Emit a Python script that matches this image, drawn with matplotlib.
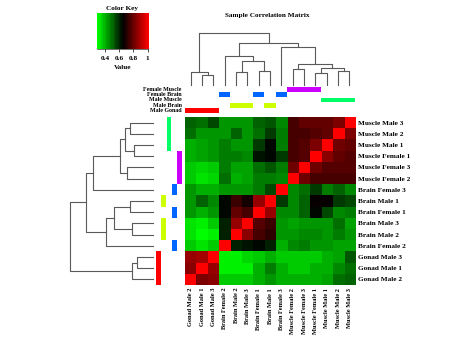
import numpy as np
import matplotlib
matplotlib.use("Agg")
import matplotlib.pyplot as plt
from matplotlib.colors import LinearSegmentedColormap

plt.rcParams["font.family"] = ["Liberation Serif", "DejaVu Serif"]
plt.rcParams["font.weight"] = "bold"

# samples in column order (left to right); rows run the other way round
samples = ["Gonad Male 2", "Gonad Male 1", "Gonad Male 3", "Brain Female 2", "Brain Male 2",
           "Brain Male 3", "Brain Female 1", "Brain Male 1", "Brain Female 3", "Muscle Female 2",
           "Muscle Female 3", "Muscle Female 1", "Muscle Male 1", "Muscle Male 2", "Muscle Male 3"]

# correlations, rows from Muscle Male 3 (top) down to Gonad Male 2
corr = np.array([
    [.51, .49, .54, .43, .43, .44, .50, .53, .46, .75, .78, .78, .78, .81, 1.0],
    [.49, .43, .43, .43, .51, .43, .49, .56, .47, .75, .75, .77, .78, 1.0, .81],
    [.40, .41, .43, .47, .44, .44, .56, .63, .47, .75, .77, .81, 1.0, .80, .78],
    [.40, .41, .43, .47, .47, .46, .61, .63, .56, .75, .77, 1.0, .84, .78, .77],
    [.36, .34, .37, .47, .41, .41, .49, .53, .47, .80, 1.0, .80, .77, .77, .77],
    [.37, .33, .34, .49, .40, .41, .47, .47, .46, 1.0, .80, .75, .75, .75, .75],
    [.43, .39, .39, .44, .44, .43, .47, .54, 1.0, .46, .49, .56, .47, .50, .45],
    [.44, .51, .46, .63, .73, .68, .85, 1.0, .56, .46, .50, .66, .65, .56, .54],
    [.43, .40, .43, .64, .78, .75, 1.0, .85, .46, .46, .50, .63, .54, .46, .47],
    [.33, .30, .37, .60, .85, 1.0, .77, .72, .43, .41, .43, .44, .43, .49, .41],
    [.33, .29, .31, .60, 1.0, .84, .74, .70, .43, .43, .46, .46, .44, .47, .43],
    [.36, .33, .36, 1.0, .60, .61, .64, .60, .40, .46, .47, .44, .44, .41, .41],
    [.85, .88, 1.0, .31, .30, .34, .37, .40, .37, .36, .36, .37, .39, .41, .53],
    [.84, 1.0, .85, .31, .30, .30, .40, .47, .39, .36, .37, .39, .39, .46, .49],
    [1.0, .82, .84, .36, .36, .36, .39, .43, .40, .40, .40, .40, .41, .49, .50],
])

# cluster tree: (merge height, left, right), leaves are column indices
tree = (155,
        (40, 0, (30, 1, 2)),
        (125,
         (87, 3, (72, (40, 4, 5), (43, 6, 7))),
         (112, 8, (62, (48, 9, 10), (52, (35, 11, 12), (43, 13, 14))))))

group_names = ["Female Muscle", "Female Brain", "Male Muscle", "Male Brain", "Male Gonad"]
group_colors = ["#CC00FF", "#0066FF", "#00FF66", "#CCFF00", "#FF0000"]

key_ticks = [0.4, 0.6, 0.8, 1.0]
key_labels = ["0.4", "0.6", "0.8", "1"]

vmin, vmax = 0.28, 1.01
cmap = LinearSegmentedColormap.from_list("greenred", ["#00FF00", "#000000", "#FF0000"], N=40)

W, H = 474, 341
n = len(samples)
line_col = "#5a5a5a"
fs = 5.2


def box(x0, y0, x1, y1):
    # pixel box (top-left origin) -> figure fraction rect
    return [x0 / W, 1 - y1 / H, (x1 - x0) / W, (y1 - y0) / H]


def draw_tree(ax, node, side):
    if isinstance(node, int):
        return node, 0
    h, a, b = node
    xa, ha = draw_tree(ax, a, side)
    xb, hb = draw_tree(ax, b, side)
    xs = [xa, xa, xb, xb]
    ys = [ha, h, h, hb]
    if side == "top":
        ax.plot(xs, ys, color=line_col, lw=0.8, clip_on=False)
    else:
        ax.plot(ys, [n - 1 - x for x in xs], color=line_col, lw=0.8, clip_on=False)
    return (xa + xb) / 2, h


fig = plt.figure(figsize=(W / 100, H / 100), dpi=100)

# heatmap
ax = fig.add_axes(box(185, 117, 355, 285))
ax.imshow(corr, cmap=cmap, vmin=vmin, vmax=vmax, aspect="auto", interpolation="nearest")
ax.set_xticks(range(n))
ax.set_xticklabels(samples, rotation=90, fontsize=4.6)
ax.set_yticks(range(n))
ax.set_yticklabels(samples[::-1], fontsize=fs)
ax.yaxis.tick_right()
ax.tick_params(length=0, pad=2)
for s in ax.spines.values():
    s.set_visible(False)

# column dendrogram
axc = fig.add_axes(box(185, 33, 355, 85))
draw_tree(axc, tree, "top")
axc.set_xlim(-0.5, n - 0.5)
axc.set_ylim(0, 155)
axc.axis("off")

# row dendrogram
axr = fig.add_axes(box(70, 117, 153, 285))
draw_tree(axr, tree, "left")
axr.set_xlim(155, 0)
axr.set_ylim(n - 0.5, -0.5)
axr.axis("off")

sample_group = [f"{s.split()[1]} {s.split()[0]}" for s in samples]

# column side colours
axs = fig.add_axes(box(185, 87, 355, 113))
for k, g in enumerate(group_names):
    for j, sg in enumerate(sample_group):
        if sg == g:
            axs.bar(j, 0.95, bottom=k - 0.475, width=1.0, color=group_colors[k])
    axs.text(-0.8, k, g, ha="right", va="center", fontsize=4.3)
axs.set_xlim(-0.5, n - 0.5)
axs.set_ylim(len(group_names) - 0.5, -0.5)
axs.axis("off")

# row side colours
axrs = fig.add_axes(box(156, 117, 182, 285))
side_order = group_names[::-1]
for k, g in enumerate(side_order):
    c = group_colors[group_names.index(g)]
    for j, sg in enumerate(sample_group):
        if sg == g:
            axrs.barh(n - 1 - j, 0.95, left=k - 0.475, height=1.0, color=c)
axrs.set_xlim(-0.5, len(side_order) - 0.5)
axrs.set_ylim(n - 0.5, -0.5)
axrs.axis("off")

# colour key
axk = fig.add_axes(box(96.7, 13, 148.3, 49))
grad = np.linspace(vmin, vmax, 256)[None, :]
axk.imshow(grad, cmap=cmap, vmin=vmin, vmax=vmax, aspect="auto",
           extent=[vmin, vmax, 0, 1], interpolation="nearest")
axk.set_xlim(vmin, vmax)
axk.set_yticks([])
axk.set_xticks(key_ticks)
axk.set_xticklabels(key_labels, fontsize=fs)
axk.tick_params(axis="x", length=2, width=0.5, pad=3)
for sp in ["top", "left", "right"]:
    axk.spines[sp].set_visible(False)
axk.spines["bottom"].set_linewidth(0.4)
axk.set_title("Color Key", fontsize=fs, fontweight="bold", pad=2)
axk.set_xlabel("Value", fontsize=fs, fontweight="bold", labelpad=3)

fig.text(267.5 / W, 1 - 15 / H, "Sample Correlation Matrix", ha="center", va="center",
         fontsize=fs, fontweight="bold")

fig.savefig("out.png", dpi=100)
